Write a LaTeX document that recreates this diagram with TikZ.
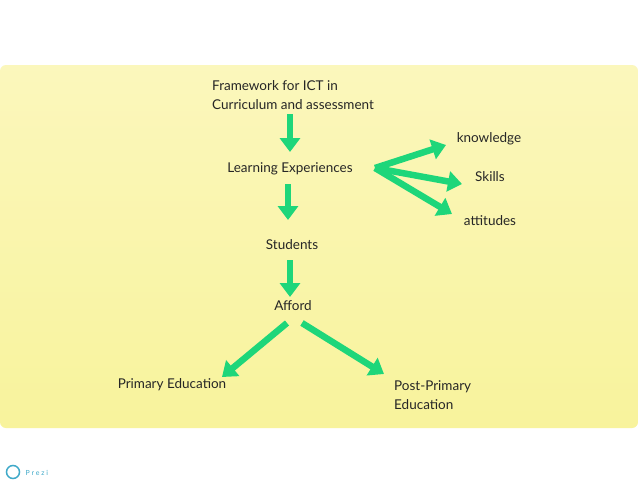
\documentclass[tikz,border=0pt]{standalone}
\usepackage{fontspec}
\setmainfont{Lato}
\usetikzlibrary{arrows.meta}
\definecolor{grn}{HTML}{1ED67A}
\definecolor{yel}{HTML}{F8F39C}
\definecolor{yelt}{HTML}{FBF7BC}
\definecolor{pz}{HTML}{3FA9C9}
\tikzset{
  lbl/.style={font=\fontsize{13.5}{19}\selectfont, text=black!85, inner sep=0pt},
  arr/.style={draw=grn, line width=6.5pt, -{Triangle[width=20pt,length=14pt]}}
}
\begin{document}
\begin{tikzpicture}[x=1pt,y=-1pt]
\useasboundingbox (0,0) rectangle (638,493);
\fill[white] (0,0) rectangle (638,493);
\shade[rounded corners=6pt, top color=yelt, bottom color=yel] (0,65) rectangle (638,428);
\node[lbl, anchor=west, align=left] (fw) at (212,95) {Framework for ICT in\\Curriculum and assessment};
\node[lbl] (le) at (290,169) {Learning Experiences};
\node[lbl] (kn) at (489,139) {knowledge};
\node[lbl] (sk) at (490,177) {Skills};
\node[lbl] (at) at (490,221) {attitudes};
\node[lbl] (st) at (292,245) {Students};
\node[lbl] (af) at (293,306) {Afford};
\node[lbl] (pe) at (172,385) {Primary Education};
\node[lbl, anchor=west, align=left] (pp) at (394,395) {Post-Primary\\Education};
\coordinate (c1) at (290,114); \coordinate (c2) at (290,152);
\draw[arr] (c1) -- (c2);
\coordinate (c3) at (288,184); \coordinate (c4) at (288,220);
\draw[arr] (c3) -- (c4);
\coordinate (c5) at (290,260); \coordinate (c6) at (290,297);
\draw[arr] (c5) -- (c6);
\coordinate (s) at (375,168);
\coordinate (k) at (446,145); \coordinate (ss) at (462,184); \coordinate (a) at (452,214);
\draw[arr] (s) -- (k);
\draw[arr] (s) -- (ss);
\draw[arr] (s) -- (a);
\coordinate (d1) at (287,323); \coordinate (d2) at (222,377);
\coordinate (d3) at (302,323); \coordinate (d4) at (384,374);
\draw[arr] (d1) -- (d2);
\draw[arr] (d3) -- (d4);
\node[circle, draw=pz, line width=1.5pt, minimum size=13pt, inner sep=0pt] (logo) at (13,472) {};
\node[font=\fontsize{7}{8}\selectfont, text=pz, anchor=west] (pztxt) at (22,473) {P r e z i};
\end{tikzpicture}
\end{document}
